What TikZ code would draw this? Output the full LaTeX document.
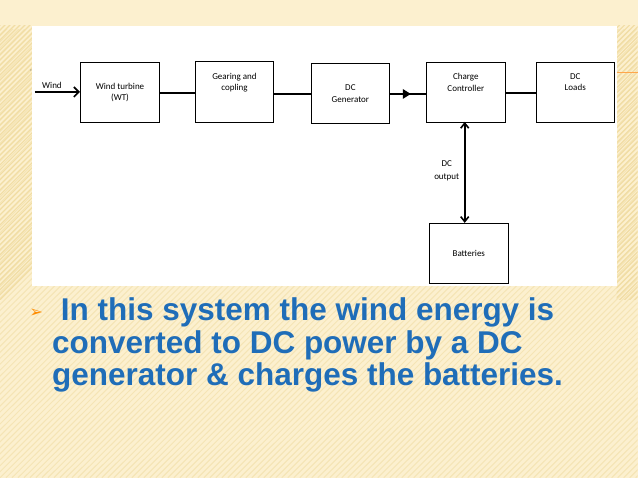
\documentclass[tikz,border=0pt]{standalone}
\usepackage{fontspec}
\setmainfont{Carlito}
\newfontfamily\arialb{Liberation Sans}
\newfontfamily\djv{DejaVu Sans}
\usetikzlibrary{arrows.meta}
\definecolor{cream}{HTML}{FCF0CF}
\definecolor{stripe}{HTML}{F1DDA4}
\definecolor{txtblue}{HTML}{1F6DB8}
\begin{document}
\begin{tikzpicture}[x=1pt,y=-1pt,
  blk/.style={draw,line width=1.2pt,align=center,font=\fontsize{9}{11.5}\selectfont,anchor=north west,inner sep=0pt},
  ln/.style={line width=1.6pt}]
\fill[cream] (0,0) rectangle (638,478);
\begin{scope}
\clip (0,30) rectangle (638,478);
\foreach \i in {0,6,...,1200} \draw[stripe!60!cream,line width=1pt] (\i-480,478) -- (\i,0);
\end{scope}
\begin{scope}
\clip (0,26) rectangle (32,300);
\foreach \i in {0,5,...,340} \draw[stripe,line width=1.2pt] (-40,\i) -- (40,\i-80);
\end{scope}
\begin{scope}
\clip (617,26) rectangle (638,300);
\foreach \i in {0,5,...,340} \draw[stripe,line width=1.2pt] (600,\i) -- (680,\i-80);
\end{scope}
\fill[white] (32,26) rectangle (617,286);
\draw[orange!70,line width=0.8pt] (617,72) -- (638,72);
\node[blk,minimum width=79pt,minimum height=60pt] (wt) at (80,62) {Wind turbine\\(WT)};
\node[blk,minimum width=78pt,minimum height=61pt] (gc) at (195,61) {Gearing and\\copling\\[9pt]};
\node[blk,minimum width=78pt,minimum height=60pt] (dg) at (311,63) {DC\\Generator};
\node[blk,minimum width=79pt,minimum height=60pt] (cc) at (426,62) {Charge\\Controller\\[9pt]};
\node[blk,minimum width=78pt,minimum height=60pt] (dl) at (536,62) {DC\\Loads\\[9pt]};
\node[blk,minimum width=79pt,minimum height=60pt] (bt) at (429,223) {Batteries};
\coordinate (w0) at (35,92);
\draw[ln,-{Straight Barb[length=5pt,width=10pt]}] (w0) -- (wt.west|-w0);
\node[font=\fontsize{9}{11}\selectfont] (wl) at (52,85) {Wind};
\draw[ln] (wt.east|-0,93) -- (gc.west|-0,93);
\draw[ln] (gc.east|-0,94) -- (dg.west|-0,94);
\draw[ln] (dg.east|-0,94) -- (cc.west|-0,94);
\coordinate (ah) at (411,94);
\fill (ah) -- ++(-8,-5) -- ++(0,10) -- cycle;
\draw[ln,{Straight Barb[length=5pt,width=8pt]}-{Straight Barb[length=5pt,width=8pt]}] (465,122) -- (465,223);
\node[font=\fontsize{9}{12.5}\selectfont,align=center] (dco) at (447,171) {DC\\output};
\draw[ln] (cc.east|-0,93) -- (dl.west|-0,93);
\node[font=\fontsize{7}{9}\selectfont,text=black!60] (q) at (31,72) {'};
\node[anchor=west,text=orange!90!yellow,font=\fontsize{16}{16}\selectfont] (bul) at (26,313) {\djv ➢};
\node[anchor=north west,align=left,text=txtblue,font=\arialb\bfseries\fontsize{31.5}{32.5}\selectfont,inner sep=0pt] (txt) at (52,298)
 {\ In this system the wind energy is\\converted to DC power by a DC\\generator \& charges the batteries.};
\end{tikzpicture}
\end{document}
